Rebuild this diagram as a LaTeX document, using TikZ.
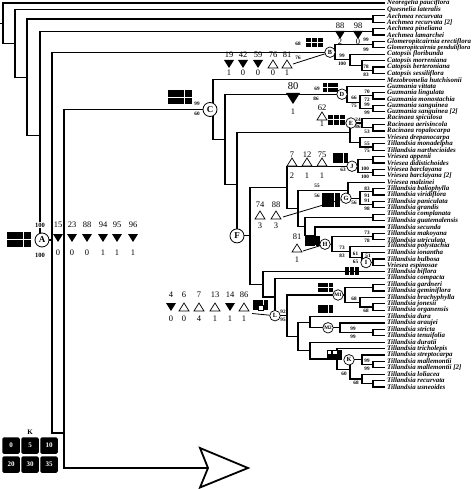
\documentclass[tikz,border=0pt]{standalone}
\usepackage{fontspec}
\setmainfont{Liberation Serif}
\newcommand{\cld}[3]{\draw[tree] (#2) -- (#2 -| #1) -- (#3 -| #1) -- (#3);}
\newcommand{\chd}[6]{%
  \node[cnum] at (#1,#2) {#5};
  \fill ({#1-5},{#3-4}) -- ({#1+5},{#3-4}) -- (#1,{#3+4}) -- cycle;
  \node[cnum] at (#1,#4) {#6};}
\newcommand{\chu}[6]{%
  \node[cnum] at (#1,#2) {#5};
  \draw[line width=0.7pt,fill=white] ({#1-5},{#3+4}) -- ({#1+5},{#3+4}) -- (#1,{#3-4}) -- cycle;
  \node[cnum] at (#1,#4) {#6};}
\newcommand{\sqg}[5]{%
  \foreach \v [count=\i from 0] in {#5}{%
    \pgfmathtruncatemacro{\cc}{mod(\i,3)}%
    \pgfmathtruncatemacro{\rr}{\i/3}%
    \ifnum\v=1
      \fill ({#1+\cc*(#3+0.8)},{#2+\rr*(#4+0.8)}) rectangle ++(#3,#4);
    \else
      \draw[line width=0.4pt,fill=white] ({#1+\cc*(#3+0.8)},{#2+\rr*(#4+0.8)}) rectangle ++(#3,#4);
    \fi}}
\begin{document}
\begin{tikzpicture}[x=1pt,y=-1pt,
  tree/.style={line width=1.1pt,line join=miter},
  tax/.style={anchor=west,inner sep=0pt,font=\fontsize{6.9}{6.9}\selectfont\bfseries\itshape},
  sup/.style={inner sep=0pt,font=\fontsize{5.2}{5.2}\selectfont\bfseries},
  cnum/.style={inner sep=0pt,font=\fontsize{8.5}{8.5}\selectfont},
  big/.style={circle,draw,fill=white,line width=0.8pt,inner sep=0pt,minimum size=14pt,font=\fontsize{9}{9}\selectfont\bfseries},
  sml/.style={circle,draw,fill=white,line width=0.7pt,inner sep=0pt,minimum size=10.5pt,font=\fontsize{6.3}{6.3}\selectfont\bfseries},
  ptr/.style={line width=0.8pt}]
\useasboundingbox (0,0) rectangle (474,489);
% taxa
\foreach \nm [count=\i from 0] in {
{Neoregelia pauciflora},{Quesnelia lateralis},{Aechmea recurvata},{Aechmea recurvata [2]},
{Aechmea pineliana},{Aechmea lamarchei},{Glomeropitcairnia erectiflora},{\fontsize{6.4}{6.4}\selectfont Glomeropitcairnia penduliflora},
{Catopsis floribunda},{Catopsis morreniana},{Catopsis berteroniana},{Catopsis sessiliflora},
{Mezobromelia hutchisonii},{Guzmania vittata},{Guzmania lingulata},{Guzmania monostachia},
{Guzmania sanguinea},{Guzmania sanguinea [2]},{Racinaea spiculosa},{Racinaea aerisincola},
{Racinaea ropalocarpa},{Vriesea drepanocarpa},{Tillandsia monadelpha},{Tillandsia narthecioides},
{Vriesea appenii},{Vriesea didistichoides},{Vriesea barclayana},{Vriesea barclayana [2]},
{Vriesea malzinei},{Tillandsia baliophylla},{Tillandsia viridiflora},{Tillandsia paniculata},
{Tillandsia grandis},{Tillandsia complanata},{Tillandsia guatemalensis},{Tillandsia secunda},
{Tillandsia makoyana},{Tillandsia utriculata},{Tillandsia polystachia},{Tillandsia ionantha},
{Tillandsia bulbosa},{Vriesea espinosae},{Tillandsia biflora},{Tillandsia compacta},
{Tillandsia gardneri},{Tillandsia geminiflora},{Tillandsia brachyphylla},{Tillandsia jonesii},
{Tillandsia organensis},{Tillandsia dura},{Tillandsia araujei},{Tillandsia stricta},
{Tillandsia tenuifolia},{Tillandsia duratii},{Tillandsia tricholepis},{Tillandsia streptocarpa},
{Tillandsia mallemontii},{Tillandsia mallemontii [2]},{Tillandsia loliacea},{Tillandsia recurvata},
{Tillandsia usneoides}}{
  \node[tax] (t\i) at (387,{3+6.4*\i}) {\nm};
  \coordinate (e\i) at (385,{3+6.4*\i});
}
% internal nodes
\coordinate (r) at (0,23.2);
\coordinate (R0) at (3,23.2); \coordinate (R1) at (15,43.4); \coordinate (R2) at (27,77.45); \coordinate (R3) at (40,135.9);
\coordinate (AR) at (373,19); \coordinate (AP) at (373,31.8); \coordinate (X52) at (52,240);
\coordinate (Xb) at (64,433); \coordinate (arr) at (208,468);
\coordinate (Bn) at (335,52.2); \coordinate (Gl) at (373,44.6); \coordinate (Cat) at (350,59.8);
\coordinate (Cm) at (362,65.4); \coordinate (Cbs) at (373,70.2);
\coordinate (Cn) at (213,109.5); \coordinate (N1) at (225,139.2);
\coordinate (Dn) at (347,94.2); \coordinate (D2) at (360,102.2); \coordinate (D3) at (373,95.8); \coordinate (D4) at (373,108.6);
\coordinate (N2) at (237,184.25); \coordinate (N3) at (350,132.6); \coordinate (En) at (362,123); \coordinate (Ra) at (373,127.8);
\coordinate (Dr) at (360,142.2); \coordinate (Mn) at (373,147);
\coordinate (Fn) at (250,235.9); \coordinate (F1) at (287,187.3); \coordinate (Jn) at (358,166.2);
\coordinate (J1) at (373,159.8); \coordinate (J2) at (373,172.6);
\coordinate (F2) at (298,208.35); \coordinate (MG) at (348,190.2); \coordinate (Gn) at (360,198.2);
\coordinate (G1) at (373,191.8); \coordinate (G2) at (373,204.6);
\coordinate (F3) at (305,226.5); \coordinate (CG) at (373,217.4); \coordinate (F4) at (315,235.6);
\coordinate (Hn) at (332,244.2); \coordinate (MU) at (373,236.6); \coordinate (P1) at (350,251.8);
\coordinate (P2) at (362,257.4); \coordinate (In) at (373,262.2);
\coordinate (Fb) at (263,284.4); \coordinate (Fc) at (275,297); \coordinate (Ln) at (287,315.7);
\coordinate (M1) at (345,295); \coordinate (M1a) at (373,287.8); \coordinate (M1b) at (360,302.2); \coordinate (JO) at (373,307);
\coordinate (Lb) at (298,336.4); \coordinate (Ld) at (310,322.2); \coordinate (M2) at (340,327.8); \coordinate (ST) at (373,332.6);
\coordinate (Kd) at (310,350.6); \coordinate (Kt) at (337,359); \coordinate (Kk) at (350,369.4);
\coordinate (Ks) at (362,359.8); \coordinate (Km) at (373,364.6); \coordinate (Kl) at (362,379); \coordinate (Kr) at (373,383.8);
% tree
\draw[tree] (r) -- (R0);
\cld{R0}{e0}{R1} \cld{R1}{e1}{R2} \cld{R2}{AR}{R3} \cld{R3}{AP}{X52}
\cld{AR}{e2}{e3} \cld{AP}{e4}{e5}
\draw[tree] (Bn) -- (Bn -| X52) -- (X52 |- Xb) -- (Xb);
\cld{Bn}{Gl}{Cat} \cld{Gl}{e6}{e7} \cld{Cat}{e8}{Cm} \cld{Cm}{e9}{Cbs} \cld{Cbs}{e10}{e11}
\draw[tree] (Cn) -- (Cn -| Xb) -- (Xb |- arr) -- (arr);
\cld{Cn}{e12}{N1} \cld{N1}{Dn}{N2} \cld{Dn}{e13}{D2} \cld{D2}{D3}{D4} \cld{D3}{e14}{e15} \cld{D4}{e16}{e17}
\cld{N2}{N3}{Fn} \cld{N3}{En}{Dr} \cld{En}{e18}{Ra} \cld{Ra}{e19}{e20} \cld{Dr}{e21}{Mn} \cld{Mn}{e22}{e23}
\cld{Fn}{F1}{Fb} \cld{F1}{Jn}{F2} \cld{Jn}{J1}{J2} \cld{J1}{e24}{e25} \cld{J2}{e26}{e27}
\cld{F2}{MG}{F3} \cld{MG}{e28}{Gn} \cld{Gn}{G1}{G2} \cld{G1}{e29}{e30} \cld{G2}{e31}{e32}
\cld{F3}{CG}{F4} \cld{CG}{e33}{e34} \cld{F4}{e35}{Hn} \cld{Hn}{MU}{P1} \cld{MU}{e36}{e37}
\cld{P1}{e38}{P2} \cld{P2}{e39}{In} \cld{In}{e40}{e41}
\cld{Fb}{e42}{Fc} \cld{Fc}{e43}{Ln} \cld{Ln}{M1}{Lb} \cld{M1}{M1a}{M1b} \cld{M1a}{e44}{e45} \cld{M1b}{e46}{JO} \cld{JO}{e47}{e48}
\cld{Lb}{Ld}{Kd} \cld{Ld}{e49}{M2} \cld{M2}{e50}{ST} \cld{ST}{e51}{e52}
\cld{Kd}{e53}{Kt} \cld{Kt}{e54}{Kk} \cld{Kk}{Ks}{Kl} \cld{Ks}{e55}{Km} \cld{Km}{e56}{e57} \cld{Kl}{e58}{Kr} \cld{Kr}{e59}{e60}
% arrow
\draw[line width=1.8pt,fill=white,line join=miter] (200,448) -- (248,468) -- (200,487.5) -- (arr) -- cycle;
% squares
\sqg{7}{232}{7.6}{7}{1,1,1,1,1,1}
\sqg{168}{90}{7.6}{6.8}{1,1,1,1,1,1}
\sqg{306}{38}{5}{4}{1,1,1,1,1,1}
\sqg{323}{83}{4.4}{4.2}{1,1,1,1,1,1}
\sqg{328}{115}{5}{4.5}{1,1,1,1,1,1}
\sqg{333}{153}{4.5}{4.5}{1,1,1,1,1,1}
\sqg{322}{193}{5.5}{6.5}{1,1,1,1,1,1}
\sqg{305}{236}{4.5}{4.5}{1,1,1,1,1,1}
\sqg{345}{267}{4}{3.5}{1,1,1,1,1,1}
\sqg{318}{283}{4.5}{4}{1,1,1,1,1,1}
\sqg{318}{305}{4.5}{3.5}{1,1,1,1,1,1}
\sqg{253}{300}{4.5}{4.5}{1,1,1,1,0,1}
\sqg{327}{350}{4.5}{4.5}{0,0,1,1,1,1}
% pointer lines
\coordinate (pB) at (293,64); \coordinate (pG) at (283,217); \coordinate (pH) at (303,251); \coordinate (pL) at (252,313.5);
% circle labels
\node[big] (cA) at (42,240) {A};
\node[sml] (cB) at (330,52.2) {B};
\node[big] (cC) at (210,109.5) {C};
\node[sml] (cD) at (342,94.2) {D};
\node[sml] (cE) at (351,123) {E};
\node[big] (cF) at (237,235.9) {F};
\node[sml] (cG) at (346,198.2) {G};
\node[sml] (cH) at (325,244.2) {H};
\node[sml] (cI) at (366,262.6) {I};
\node[sml] (cJ) at (352,166.2) {J};
\node[sml] (cK) at (349,359.8) {K};
\node[sml] (cL) at (275,315.7) {L};
\node[sml,font=\fontsize{5.2}{5.2}\selectfont\bfseries] (cM1) at (338,295) {M1};
\node[sml,font=\fontsize{5.2}{5.2}\selectfont\bfseries] (cM2) at (328,327.8) {M2};
\draw[ptr] (pB) -- (cB); \draw[ptr] (pG) -- (cG); \draw[ptr] (pH) -- (cH); \draw[ptr] (pL) -- (cL);
% support values
\node[sup,fill=white,inner sep=0.5pt,font=\fontsize{6.5}{6.5}\selectfont\bfseries] at (40,225) {100};
\node[sup,fill=white,inner sep=0.5pt,font=\fontsize{6.5}{6.5}\selectfont\bfseries] at (40,255) {100};
\node[sup] at (298,44) {68}; \node[sup] at (298,58) {76};
\node[sup] at (366,40) {99}; \node[sup] at (366,49.5) {99};
\node[sup] at (342,55.5) {99}; \node[sup] at (342,64) {100};
\node[sup] at (366,66.5) {78}; \node[sup] at (366,74.5) {83};
\node[sup] at (197,104) {99}; \node[sup] at (197,114) {60};
\node[sup] at (317,89) {69}; \node[sup] at (316,99) {86};
\node[sup] at (354,98) {66}; \node[sup] at (354,106) {75};
\node[sup] at (367,92) {70}; \node[sup] at (367,99.5) {72};
\node[sup] at (367,105) {99}; \node[sup] at (367,112.5) {99};
\node[sup] at (358,119.5) {24}; \node[sup] at (358,127) {86};
\node[sup] at (367,131.5) {53};
\node[sup] at (367,143.5) {55}; \node[sup] at (367,151) {75};
\node[sup] at (343,170) {63};
\node[sup] at (365,169) {100}; \node[sup] at (365,176.5) {100};
\node[sup] at (317,186) {55};
\node[sup] at (317,196) {56}; \node[sup] at (354,202.5) {56};
\node[sup] at (367,188.5) {83}; \node[sup] at (367,195.5) {91};
\node[sup] at (367,201) {91}; \node[sup] at (367,208.5) {98};
\node[sup] at (367,233) {73}; \node[sup] at (367,240.5) {78};
\node[sup] at (342,248) {73}; \node[sup] at (342,255.5) {83};
\node[sup] at (355.5,254) {61}; \node[sup] at (368,255.5) {51}; \node[sup] at (355.5,261.5) {65};
\node[sup] at (354,298.5) {68}; \node[sup] at (366,311) {68};
\node[sup] at (353,329) {99}; \node[sup] at (353,336.5) {99};
\node[sup] at (283,311.5) {92}; \node[sup] at (283,320) {95};
\node[sup] at (367,361) {99}; \node[sup] at (367,368.5) {99};
\node[sup] at (344,374) {60}; \node[sup] at (356,383) {68};
% characters
\chd{229}{55}{64}{73}{19}{1} \chd{243}{55}{64}{73}{42}{0} \chd{258}{55}{64}{73}{59}{0}
\chu{273}{55}{64}{73}{76}{0} \chu{287}{55}{64}{73}{81}{1}
\chd{340}{26}{35}{42}{88}{2} \chd{358}{26}{35}{42}{98}{0}
\node[inner sep=0pt,font=\fontsize{10.5}{10.5}\selectfont] at (293,86) {80};
\fill (286,93) -- (300,93) -- (293,104) -- cycle;
\node[cnum] at (293,112) {1};
\chu{322}{108}{116}{124}{62}{1}
\chu{292}{155}{162}{176}{7}{2} \chu{307}{155}{162}{176}{12}{1} \chu{322}{155}{162}{176}{75}{1}
\chu{260}{205}{215}{226}{74}{3} \chu{276}{205}{215}{226}{88}{3}
\chu{297}{237}{248}{260}{81}{1}
\chd{171}{295}{307}{319}{4}{0} \chu{184}{295}{307}{319}{6}{0} \chu{199}{295}{307}{319}{7}{4}
\chu{215}{295}{307}{319}{13}{1} \chd{230}{295}{307}{319}{14}{1} \chu{244}{295}{307}{319}{86}{1}
\chd{58}{225}{238}{253}{15}{0} \chd{72}{225}{238}{253}{23}{0} \chd{87}{225}{238}{253}{88}{0}
\chd{103}{225}{238}{253}{94}{1} \chd{117}{225}{238}{253}{95}{1} \chd{133}{225}{238}{253}{96}{1}
% legend
\node[inner sep=0pt,font=\fontsize{7}{7}\selectfont\bfseries] (legK) at (30,432) {K};
\foreach \val [count=\j from 0] in {0,5,10,20,30,35}{
  \pgfmathtruncatemacro{\cc}{mod(\j,3)}
  \pgfmathtruncatemacro{\rr}{\j/3}
  \node[fill=black,rounded corners=1.5pt,minimum width=17.5pt,minimum height=16.5pt,inner sep=0pt,
        text=white,font=\fontsize{7}{7}\selectfont\bfseries] (lg\j) at ({11+\cc*19},{445.5+\rr*19}) {\val};
}
\end{tikzpicture}
\end{document}
